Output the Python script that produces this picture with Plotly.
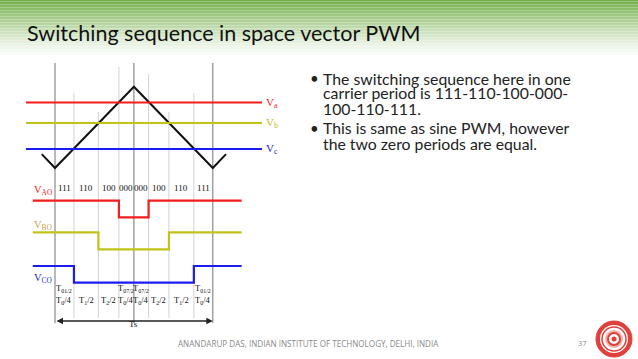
import plotly.graph_objects as go

# ---------------- data ----------------
title_text = "Switching sequence in space vector PWM"
bullets = [
    ["The switching sequence here in one", "carrier period is 111-110-100-000-", "100-110-111."],
    ["This is same as sine PWM, however", "the two zero periods are equal."],
]
footer_text = "ANANDARUP DAS, INDIAN INSTITUTE OF TECHNOLOGY, DELHI, INDIA"
page_no = "37"

# carrier (time in units of Ts, value normalised to carrier peak)
carrier_t = [-0.084, 0.0, 0.5, 1.0, 1.084]
carrier_v = [-0.66, -1.0, 1.0, -1.0, -0.66]

# reference levels
ref_names = ["V<sub>a</sub>", "V<sub>b</sub>", "V<sub>c</sub>"]
ref_levels = [0.61, 0.11, -0.53]
ref_span = [-0.184, 1.312]

# switching instants (fall, rise) for each phase
sw_a = [0.405, 0.593]
sw_b = [0.275, 0.722]
sw_c = [0.12, 0.88]

# pole voltage waveforms (time, logic state)
wave_span = [-0.141, 1.183]
vao_t = [wave_span[0], sw_a[0], sw_a[1], wave_span[1]]
vao_s = [1, 0, 1, 1]
vbo_t = [wave_span[0], sw_b[0], sw_b[1], wave_span[1]]
vbo_s = [1, 0, 1, 1]
vco_t = [wave_span[0], sw_c[0], sw_c[1], wave_span[1]]
vco_s = [1, 0, 1, 1]
wave_names = ["V<sub>AO</sub>", "V<sub>BO</sub>", "V<sub>CO</sub>"]

states = ["111", "110", "100", "000", "000", "100", "110", "111"]
times_row1 = ["T<sub>01/2</sub>", "", "", "T<sub>07/2</sub>", "T<sub>07/2</sub>", "", "", "T<sub>01/2</sub>"]
times_row2 = ["T<sub>0</sub>/4", "T<sub>1</sub>/2", "T<sub>2</sub>/2", "T<sub>0</sub>/4",
              "T<sub>0</sub>/4", "T<sub>2</sub>/2", "T<sub>1</sub>/2", "T<sub>0</sub>/4"]
period_label = "Ts"

# ---------------- layout helpers ----------------
W, H = 638, 359
X0_PX, TS_PX = 55.0, 157.8

def px(x):
    return x / W

def py(y):
    return 1 - y / H

def yrange(low_px, h_px):
    return [(low_px - H) / h_px, low_px / h_px]

RED = "#f21d1d"
YEL = "#c2c21a"
BLU = "#1c1cf0"

fig = go.Figure()

# carrier
fig.add_trace(go.Scatter(x=carrier_t, y=carrier_v, mode="lines",
                         line=dict(color="#111111", width=2), yaxis="y", hoverinfo="skip"))
# references
for lvl, col in zip(ref_levels, [RED, YEL, BLU]):
    fig.add_trace(go.Scatter(x=ref_span, y=[lvl, lvl], mode="lines",
                             line=dict(color=col, width=2), yaxis="y", hoverinfo="skip"))

# waveforms
for t, s, col, ax in [(vao_t, vao_s, RED, "y2"), (vbo_t, vbo_s, YEL, "y3"), (vco_t, vco_s, BLU, "y4")]:
    fig.add_trace(go.Scatter(x=t, y=s, mode="lines", line=dict(color=col, width=2.2, shape="hv"),
                             yaxis=ax, hoverinfo="skip"))

shapes = []
# title gradient band
N = 40
for i in range(N):
    y0 = 60 * i / N
    y1 = 60 * (i + 1) / N
    a = max(0.0, 1 - (y0 + y1) / 2 / 58) ** 1.3
    r = int(255 + (112 - 255) * a)
    g = int(255 + (173 - 255) * a)
    b = int(255 + (71 - 255) * a)
    shapes.append(dict(type="rect", xref="paper", yref="paper", x0=0, x1=1, y0=py(y1), y1=py(y0),
                       fillcolor=f"rgb({r},{g},{b})", line=dict(width=0), layer="below"))

# vertical guide lines
for t in [0.0, 0.5, 1.0]:
    shapes.append(dict(type="line", xref="x", yref="paper", x0=t, x1=t, y0=py(323), y1=py(63),
                       line=dict(color="#8a8a8a", width=1.2), layer="below"))
light = [(sw_c[0], 93), (sw_b[0], 112), (sw_a[0], 67), (sw_a[1], 74), (sw_b[1], 112), (sw_c[1], 93)]
for t, top in light:
    shapes.append(dict(type="line", xref="x", yref="paper", x0=t, x1=t, y0=py(318), y1=py(top),
                       line=dict(color="#d2d2d2", width=1), layer="below"))

# logo
cx, cy = 614, 339
def circ(r, **kw):
    return dict(type="circle", xref="paper", yref="paper", x0=px(cx - r), x1=px(cx + r),
                y0=py(cy + r), y1=py(cy - r), **kw)
shapes.append(circ(18, fillcolor="#e0403a", line=dict(color="#e0403a", width=1)))
shapes.append(circ(14, fillcolor="white", line=dict(width=0)))
shapes.append(circ(12, fillcolor="rgba(0,0,0,0)", line=dict(color="#e0403a", width=1.5)))
shapes.append(circ(9, fillcolor="#f2b0ac", line=dict(width=0)))
shapes.append(circ(6, fillcolor="white", line=dict(color="#e0403a", width=2)))
shapes.append(circ(2.5, fillcolor="#e0403a", line=dict(width=0)))

ann = []
ann.append(dict(text=title_text, x=px(25), y=py(33), xref="paper", yref="paper", xanchor="left",
                yanchor="middle", showarrow=False, font=dict(family="Lato", size=21.5, color="#111111")))
# bullets
bullet_y = [[78, 93, 108], [128, 143]]
for lines, ys in zip(bullets, bullet_y):
    ann.append(dict(text="•", x=px(308), y=py(ys[0]), xref="paper", yref="paper", xanchor="left",
                    yanchor="middle", showarrow=False, font=dict(family="Lato", size=15, color="#222222")))
    for txt, yy in zip(lines, ys):
        ann.append(dict(text=txt, x=px(321), y=py(yy), xref="paper", yref="paper", xanchor="left",
                        yanchor="middle", showarrow=False, font=dict(family="Lato", size=15.8, color="#222222")))
# footer
ann.append(dict(text=footer_text, x=px(176), y=py(343), xref="paper", yref="paper", xanchor="left",
                yanchor="middle", showarrow=False, font=dict(family="Open Sans", size=8.1, color="#8a8a8a")))
ann.append(dict(text=page_no, x=px(576), y=py(343), xref="paper", yref="paper", xanchor="left",
                yanchor="middle", showarrow=False, font=dict(family="Open Sans", size=7.5, color="#8a8a8a")))

# reference labels
for name, lvl, col in zip(ref_names, ref_levels, [RED, YEL, BLU]):
    ann.append(dict(text=name, x=1.322, y=lvl, xref="x", yref="y", xanchor="left", yanchor="middle",
                    showarrow=False, font=dict(family="Liberation Serif", size=11, color=col)))
# waveform labels
for name, yy, col in zip(wave_names, [190, 225, 278], [RED, "#c9a040", BLU]):
    ann.append(dict(text=name, x=px(32), y=py(yy), xref="paper", yref="paper", xanchor="left",
                    yanchor="middle", showarrow=False, font=dict(family="Liberation Serif", size=10.5, color=col)))

bounds = sorted([0.0, 0.5, 1.0] + sw_a + sw_b + sw_c)
mids = [(bounds[i] + bounds[i + 1]) / 2 for i in range(len(bounds) - 1)]
for m, s, r1, r2 in zip(mids, states, times_row1, times_row2):
    ann.append(dict(text=s, x=m, y=py(188), xref="x", yref="paper", showarrow=False,
                    font=dict(family="Liberation Serif", size=9, color="#111111")))
    if r1:
        ann.append(dict(text=r1, x=m, y=py(296), xref="x", yref="paper", showarrow=False,
                        font=dict(family="Liberation Serif", size=8.5, color="#111111")))
    ann.append(dict(text=r2, x=m, y=py(308), xref="x", yref="paper", showarrow=False,
                    font=dict(family="Liberation Serif", size=8.5, color="#111111")))
# Ts arrow
ann.append(dict(x=1.0, y=py(321), ax=0.0, ay=0, xref="x", yref="paper", axref="x", ayref="pixel",
                text="", showarrow=True, arrowhead=2, arrowside="end+start", arrowsize=1, arrowwidth=1.3,
                arrowcolor="#222222"))
ann.append(dict(text=period_label, x=0.5, y=py(331), xref="x", yref="paper", showarrow=False,
                font=dict(family="Liberation Serif", size=9, color="#111111")))

xr = [-X0_PX / TS_PX, (W - X0_PX) / TS_PX]
hidden = dict(visible=False, showgrid=False, zeroline=False, fixedrange=True)
fig.update_layout(
    width=W, height=H, margin=dict(l=0, r=0, t=0, b=0),
    paper_bgcolor="white", plot_bgcolor="white", showlegend=False,
    xaxis=dict(range=xr, **hidden),
    yaxis=dict(range=yrange(127.35 + 0, 40.65), **hidden),
    yaxis2=dict(range=yrange(217.3, 16.6), overlaying="y", **hidden),
    yaxis3=dict(range=yrange(249.3, 17.0), overlaying="y", **hidden),
    yaxis4=dict(range=yrange(282.7, 16.7), overlaying="y", **hidden),
    shapes=shapes, annotations=ann,
)
fig.write_html("out.html", config={"displayModeBar": False},
               post_script="document.body.style.margin='0';document.body.style.overflow='hidden';")
